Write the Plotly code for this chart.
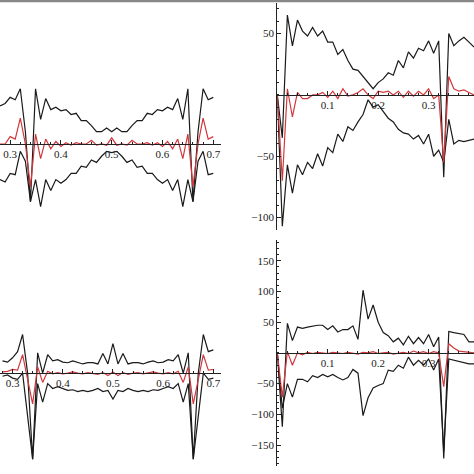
import plotly.graph_objects as go

xl = [round(0.28 + 0.01*i, 2) for i in range(43)]   # 0.28..0.70
xr = [round(0.01*i, 2) for i in range(40)]          # 0.00..0.39

tl_up = [31,33,38,36,45,10,-47,45,20,37,28,30,27,28,24,25,19,19,15,10,10,13,10,
         13,10,10,15,19,19,25,24,28,27,30,28,37,20,45,-47,10,45,36,38]
tl_lo = [-29,-31,-24,-25,-6,-14,-47,-29,-51,-29,-38,-29,-32,-29,-24,-24,-18,-19,-13,-15,-10,-6,-7,
         -6,-10,-15,-13,-19,-18,-24,-24,-29,-32,-29,-38,-29,-51,-29,-47,-14,-6,-25,-24]
tl_red = [0,0,6,4,21,0,-35,8,-12,4,-4,2,-2,1,-1,1,0,0,3,-1,0,-1,5,
          -1,0,-1,3,0,0,1,-1,1,-2,2,-4,4,-12,8,-35,0,21,4,6]

tr_up = [0,-35,65,40,61,52,48,55,48,52,43,43,33,37,28,21,20,15,10,5,10,13,18,16,28,22,35,30,38,36,44,34,44,-67,50,40,44,47,43,39]
tr_lo = [0,-107,-57,-80,-57,-65,-55,-60,-48,-58,-43,-47,-32,-38,-26,-29,-22,-16,-4,-10,-8,-14,-19,-22,-28,-31,-32,-36,-33,-40,-32,-50,-45,-55,-20,-40,-37,-38,-37,-36]
tr_red = [0,-70,5,-18,2,-3,-3,0,0,2,-2,3,-3,5,-1,0,2,5,0,-3,3,2,3,0,3,-2,3,-1,3,0,5,-3,0,-55,15,5,3,4,2,0]

bl_up = [20,18,25,35,63,0,-140,33,0,30,20,22,18,17,20,18,15,17,17,15,32,15,48,
         15,32,15,17,17,15,18,20,17,18,22,20,30,0,33,-140,0,63,35,38]
bl_lo = [-5,-3,-8,-10,0,-70,-140,-17,-47,-17,-25,-22,-25,-28,-27,-30,-28,-30,-28,-25,-30,-28,-42,
         -28,-30,-25,-28,-30,-28,-30,-27,-28,-25,-22,-25,-17,-47,-17,-140,-70,0,-10,-8]
bl_red = [2,3,6,5,30,-10,-50,10,-15,3,-1,1,-1,0,2,0,-1,1,0,-2,1,-4,2,
          -4,1,-2,0,1,-1,0,2,0,-1,1,-1,3,-15,10,-50,-10,30,5,6]

br_up = [0,-120,48,20,42,40,42,44,45,45,38,44,34,38,38,44,22,102,55,78,50,33,28,18,24,13,27,15,25,15,30,10,26,-172,35,33,32,30,18,18]
br_lo = [0,-90,-50,-72,-43,-43,-47,-37,-40,-35,-39,-35,-40,-44,-40,-27,-33,-102,-73,-57,-53,-50,-28,-30,-20,-25,-7,-20,-12,-20,-10,-28,-10,-160,-10,-12,-15,-17,-18,-18]
br_red = [0,-72,2,-20,0,-3,1,-1,1,0,-1,1,0,-1,1,0,-2,1,0,2,-1,0,1,-2,0,1,-1,3,0,2,-1,2,0,-55,15,8,3,2,1,0]

BLACK = "#1a1a1a"
RED = "#d0383c"
fig = go.Figure()
panels = [
    ("x", "y", xl, tl_up, tl_lo, tl_red),
    ("x2", "y2", xr, tr_up, tr_lo, tr_red),
    ("x3", "y3", xl, bl_up, bl_lo, bl_red),
    ("x4", "y4", xr, br_up, br_lo, br_red),
]
for xa, ya, xs, up, lo, red in panels:
    for ys, c in ((up, BLACK), (lo, BLACK), (red, RED)):
        fig.add_trace(go.Scatter(x=xs, y=ys, xaxis=xa, yaxis=ya, mode="lines",
                                 line=dict(color=c, width=1.2), showlegend=False, cliponaxis=False))

font = dict(family="Liberation Serif", size=11, color="#222")
def xax(domain, rng, pos, tv):
    return dict(domain=domain, range=rng, anchor="free", position=pos, automargin=False,
                showline=True, linecolor="#222", linewidth=1, showgrid=False, zeroline=False,
                ticks="inside", ticklen=4, tickcolor="#222", tickvals=tv,
                ticktext=[str(v) for v in tv], tickfont=font,
                minor=dict(ticks="inside", ticklen=2, dtick=0.02, tickcolor="#222"))
def yax(domain, rng, anchor, show, tv):
    d = dict(domain=domain, range=rng, anchor=anchor, automargin=False, showgrid=False,
             zeroline=False, tickfont=font)
    if show:
        d.update(showline=True, linecolor="#222", linewidth=1, ticks="inside", ticklen=4,
                 tickcolor="#222", tickvals=tv, ticktext=["\u2212"+str(-v) if v < 0 else str(v) for v in tv],
                 minor=dict(ticks="inside", ticklen=2, dtick=10, tickcolor="#222"))
    else:
        d.update(showline=False, showticklabels=False, ticks="")
    return d

top = [0.515, 0.994]
bot = [0.017, 0.494]
fig.update_layout(
    width=474, height=474, margin=dict(l=0, r=0, t=0, b=0, pad=0),
    paper_bgcolor="white", plot_bgcolor="white",
    xaxis=xax([0, 0.466], [0.28, 0.715], 0.696, [0.3, 0.4, 0.5, 0.6, 0.7]),
    yaxis=yax(top, [-70, 115], "x", False, []),
    xaxis2=xax([0.585, 1], [0, 0.39], 0.80, [0.1, 0.2, 0.3]),
    yaxis2=yax(top, [-110, 75], "x2", True, [-100, -50, 50]),
    xaxis3=xax([0, 0.466], [0.275, 0.715], 0.213, [0.3, 0.4, 0.5, 0.6, 0.7]),
    yaxis3=yax(bot, [-151, 217], "x3", False, []),
    xaxis4=xax([0.585, 1], [0, 0.39], 0.255, [0.1, 0.2, 0.3]),
    yaxis4=yax(bot, [-184, 184], "x4", True, [-150, -100, -50, 50, 100, 150]),
    shapes=[dict(type="rect", xref="paper", yref="paper", x0=0, x1=1, y0=0.995, y1=1,
                 fillcolor="#888", line_width=0)],
)
fig.write_html("out.html", config={"displayModeBar": False},
               post_script="document.body.style.margin='0';document.body.style.overflow='hidden';")
